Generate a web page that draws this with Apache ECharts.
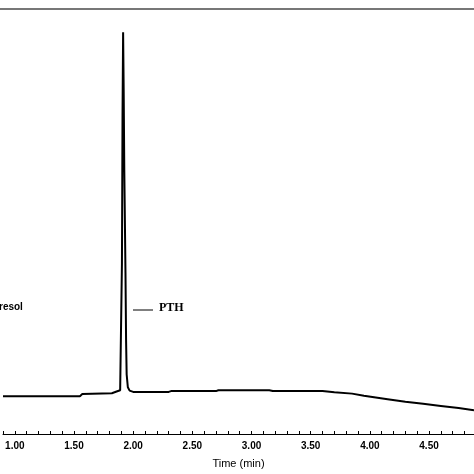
<!DOCTYPE html>
<html>
<head>
<meta charset="utf-8">
<script src="https://cdn.jsdelivr.net/npm/echarts@6/dist/echarts.min.js"></script>
<style>html,body{margin:0;padding:0;background:#fff}#c{width:474px;height:474px}</style>
</head>
<body>
<div id="c"></div>
<script>
// retention time (min) and detector signal (relative)
var times = [0.90, 1.20, 1.55, 1.57, 1.82, 1.86, 1.89, 1.905, 1.910, 1.915, 1.920, 1.925, 1.930, 1.935, 1.940, 1.945, 1.955, 1.970, 1.985, 2.00, 2.30, 2.32, 2.70, 2.72, 3.15, 3.18, 3.60, 3.70, 3.85, 3.95, 4.05, 4.15, 4.30, 4.45, 4.60, 4.75, 4.88];
var signal = [8.9, 8.9, 8.9, 9.4, 9.6, 10.0, 10.3, 40, 75, 94.5, 80, 62, 50, 38, 22, 14, 11, 10.2, 9.9, 9.9, 9.9, 10.1, 10.1, 10.3, 10.3, 10.1, 10.1, 9.8, 9.5, 9.0, 8.6, 8.2, 7.6, 7.1, 6.6, 6.1, 5.6];
var labelTimes = [1.00, 1.50, 2.00, 2.50, 3.00, 3.50, 4.00, 4.50];

var pts = times.map(function (t, i) { return [t, signal[i]]; });
var chart = echarts.init(document.getElementById('c'));
chart.setOption({
  backgroundColor: '#fff',
  animation: false,
  grid: { left: 0, right: 0, top: 9, bottom: 37 },
  xAxis: {
    type: 'value', min: 0.9, max: 4.88, interval: 0.1,
    name: 'Time (min)', nameLocation: 'middle', nameGap: 24,
    nameTextStyle: { color: '#000', fontSize: 11, fontFamily: 'Liberation Sans' },
    axisLine: { lineStyle: { color: '#000', width: 1 } },
    axisTick: { inside: true, length: 3, lineStyle: { color: '#000' } },
    splitLine: { show: false },
    axisLabel: {
      color: '#000', fontSize: 10, fontWeight: 'bold', fontFamily: 'Liberation Sans', margin: 7,
      interval: 0, showMinLabel: true, showMaxLabel: false, hideOverlap: false,
      formatter: function (v) {
        var m = labelTimes.filter(function (l) { return Math.abs(l - v) < 1e-6; });
        return m.length ? v.toFixed(2) : '';
      }
    }
  },
  yAxis: { type: 'value', min: 0, max: 100, show: false },
  graphic: [
    { type: 'line', shape: { x1: 0, y1: 9, x2: 474, y2: 9 }, style: { stroke: '#777', lineWidth: 2 } },
    { type: 'line', shape: { x1: 133, y1: 310, x2: 153, y2: 310 }, style: { stroke: '#000', lineWidth: 1 } },
    { type: 'text', left: 159, top: 302, style: { text: 'PTH', fill: '#000', font: 'bold 12px "Liberation Serif"' } },
    { type: 'text', left: -1, top: 302, style: { text: 'resol', fill: '#000', font: 'bold 10px "Liberation Sans"' } }
  ],
  series: [{
    type: 'line', data: pts, showSymbol: false,
    lineStyle: { color: '#000', width: 2 }
  }]
});
</script>
</body>
</html>
